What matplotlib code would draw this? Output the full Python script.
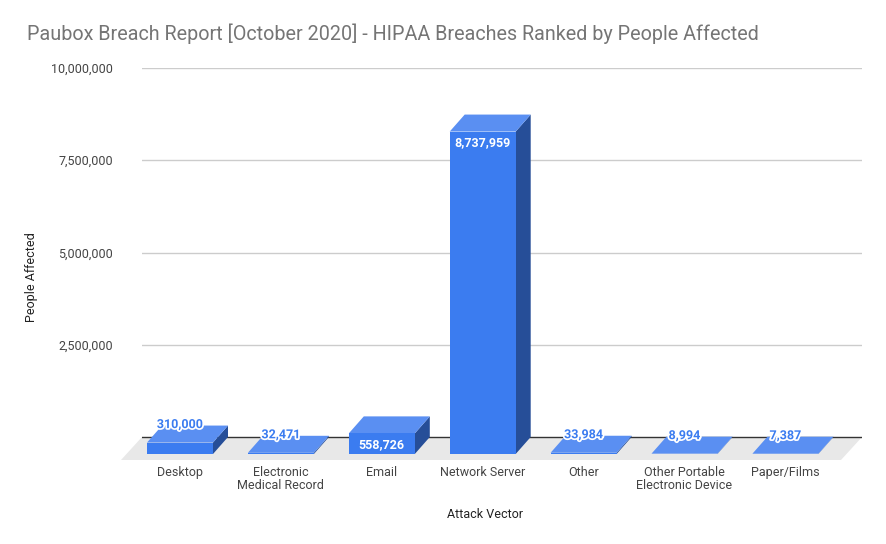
import matplotlib.pyplot as plt
from matplotlib.patches import Polygon
import matplotlib.patheffects as pe

plt.rcParams['font.family'] = ['Roboto', 'DejaVu Sans']

categories = ["Desktop", "Electronic\nMedical Record", "Email", "Network Server",
              "Other", "Other Portable\nElectronic Device", "Paper/Films"]
people = [310000, 32471, 558726, 8737959, 33984, 8994, 7387]
y_ticks = [2500000, 5000000, 7500000, 10000000]

FRONT = "#3b7cf0"
TOP = "#5a8ff2"
SIDE = "#264e98"

W, H = 886, 544
fig = plt.figure(figsize=(W / 100, H / 100), dpi=100)
ax = fig.add_axes([142 / W, 1 - 463 / H, 720 / W, (463 - 68) / H])

px_val = 10e6 / 369.0      # value per pixel
px_cat = 1 / 100.9         # category units per pixel
dx = 15 * px_cat           # depth offset of bars
dy = 17 * px_val
bw = 66 * px_cat

x0, x1 = (142 - 195) * px_cat, (862 - 195) * px_cat
ax.set_xlim(x0, x1)
ax.set_ylim(-26 * px_val, 10e6)

# floor
fdx, fdy = 21 * px_cat, 23 * px_val
ax.add_patch(Polygon([(x0, 0), (x1, 0), (x1 - fdx, -fdy), (x0 - fdx, -fdy)],
                     closed=True, facecolor="#e8e8e8", edgecolor="none",
                     zorder=1, clip_on=False))
for t in y_ticks:
    ax.axhline(t, color="#cccccc", lw=1, zorder=1)
ax.axhline(0, color="#333333", lw=1, zorder=2)

for i, v in enumerate(people):
    xf = i - dx
    l, r = xf - bw / 2, xf + bw / 2
    side = [(r, -dy), (r + dx, 0), (r + dx, v), (r, v - dy)]
    top = [(l, v - dy), (r, v - dy), (r + dx, v), (l + dx, v)]
    front = [(l, -dy), (r, -dy), (r, v - dy), (l, v - dy)]
    for pts, c in ((side, SIDE), (top, TOP), (front, FRONT)):
        ax.add_patch(Polygon(pts, closed=True, facecolor=c, edgecolor="none",
                             zorder=3, clip_on=False))
    lab = f"{v:,}"
    if v / px_val > 18:
        ax.text(xf, v - dy - 11 * px_val, lab, ha="center", va="center",
                color="white", fontsize=9, fontweight="bold", zorder=5)
    else:
        ax.text(xf, v + 1 * px_val, lab, ha="center", va="center",
                color="#3b7cf0", fontsize=9, fontweight="bold", zorder=5,
                path_effects=[pe.withStroke(linewidth=2.5, foreground="white")])

ax.set_xticks([i - dx for i in range(len(categories))])
ax.set_xticklabels(categories, fontsize=9, color="#444444", linespacing=1.0)
ax.set_yticks(y_ticks)
ax.set_yticklabels([f"{t:,}" for t in y_ticks], fontsize=9, color="#444444")
ax.tick_params(axis="x", length=0, pad=2)
ax.tick_params(axis="y", length=0, pad=21)
for s in ax.spines.values():
    s.set_visible(False)

fig.text(27 / W, 1 - 34 / H, "Paubox Breach Report [October 2020] - HIPAA Breaches Ranked by People Affected",
         fontsize=14.25, color="#757575", ha="left", va="center")
fig.text(32 / W, 1 - 277 / H, "People Affected", rotation=90, fontsize=9,
         color="#222222", ha="center", va="center")
fig.text(485 / W, 1 - 514 / H, "Attack Vector", fontsize=9, color="#222222",
         ha="center", va="center")

fig.savefig("out.png", dpi=100)
